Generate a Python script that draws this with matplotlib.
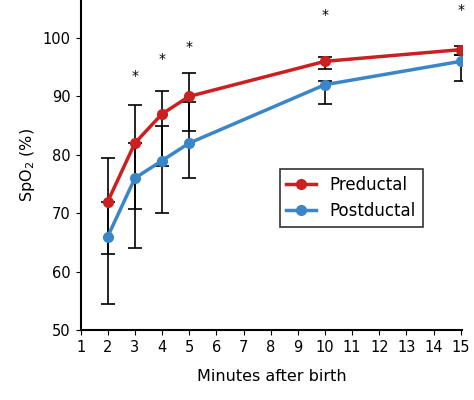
import matplotlib
matplotlib.use("Agg")
import matplotlib.pyplot as plt
import numpy as np

minutes = np.array([2, 3, 4, 5, 10, 15])
pre = np.array([72, 82, 87, 90, 96, 98])
pre_lo = np.array([63, 70.8, 78, 84, 94.7, 97])
pre_hi = np.array([79.5, 88.5, 91, 94, 96.7, 98.6])
post = np.array([66, 76, 79, 82, 92, 96])
post_lo = np.array([54.5, 64, 70, 76, 88.7, 92.6])
post_hi = np.array([72, 82, 85, 89, 92.6, 97])
star_x = [3, 4, 5, 10, 15]
star_y = [93.5, 96.4, 98.5, 104.0, 104.8]

fig, ax = plt.subplots(figsize=(4.74, 4.0), dpi=100)
fig.subplots_adjust(left=0.17, right=0.975, top=1.0, bottom=0.175)

ax.errorbar(minutes, post, yerr=[post - post_lo, post_hi - post], fmt='none',
            ecolor='black', elinewidth=1.2, capsize=5, capthick=1.2, zorder=2)
ax.errorbar(minutes, pre, yerr=[pre - pre_lo, pre_hi - pre], fmt='none',
            ecolor='black', elinewidth=1.2, capsize=5, capthick=1.2, zorder=2)
ax.plot(minutes, pre, '-o', color='#cc1f1f', lw=2.5, ms=7, label='Preductal', zorder=3)
ax.plot(minutes, post, '-o', color='#3a86c8', lw=2.5, ms=7, label='Postductal', zorder=3)
for x, y in zip(star_x, star_y):
    ax.text(x, y, '*', ha='center', va='center', fontsize=10, clip_on=False)

ax.set_xlim(1, 15.05)
ax.set_ylim(50, 106.5)
ax.set_xticks(range(1, 16))
ax.set_yticks(range(50, 101, 10))
ax.spines['top'].set_visible(False)
ax.spines['right'].set_visible(False)
ax.spines['left'].set_linewidth(1.5)
ax.spines['bottom'].set_linewidth(1.5)
ax.tick_params(labelsize=10.5)
ax.set_xlabel('Minutes after birth', fontsize=11.5, labelpad=10)
ax.set_ylabel('SpO$_2$ (%)', fontsize=11.5)
leg = ax.legend(loc='center left', bbox_to_anchor=(0.5, 0.40), fontsize=12,
                fancybox=False, edgecolor='black', handlelength=1.8)
leg.get_frame().set_linewidth(1.2)

plt.savefig("out.png")
